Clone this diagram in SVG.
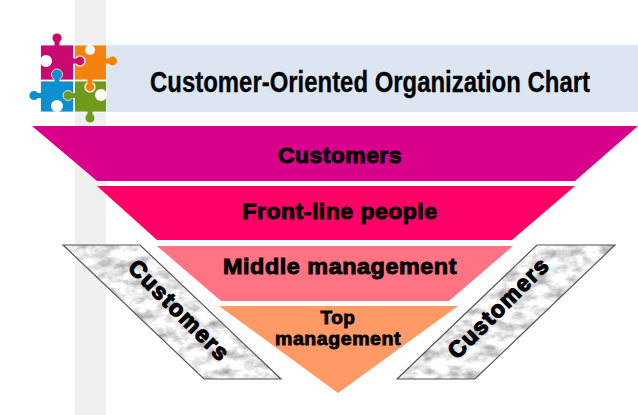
<svg xmlns="http://www.w3.org/2000/svg" width="638" height="415" viewBox="0 0 638 415">
<style>
.t{font-family:"Liberation Sans",Arial,sans-serif;font-weight:700;fill:#000;text-anchor:middle;font-size:22px;stroke:#000;stroke-width:.9;letter-spacing:.5px}
.s{font-size:18.500px;stroke-width:.8}
.r{font-size:23px;stroke-width:1.300}
.title{font-family:"Liberation Sans",Arial,sans-serif;font-weight:700;fill:#000;font-size:29px;text-anchor:middle;stroke:#000;stroke-width:.3}
.edge{fill:none;stroke:#555;stroke-width:1.200}
.p{stroke:#fff;stroke-width:.8}
</style>
<defs>
<filter id="marble" x="0" y="0" width="100%" height="100%" color-interpolation-filters="sRGB">
<feTurbulence type="fractalNoise" baseFrequency="0.06 0.1" numOctaves="5" seed="11"/>
<feColorMatrix type="matrix" values="0.75 0.2 0 0 0.44  0.75 0.2 0 0 0.44  0.75 0.2 0 0 0.44  0 0 0 0 1"/>
</filter>
<clipPath id="cl"><polygon points="63,245 140,245 281,379 204,379"/></clipPath>
<clipPath id="cr"><polygon points="537,245 615,245 475,379 397,379"/></clipPath>
</defs>
<rect id="band" x="75" y="0" width="31" height="415" fill="#f0f0f0"/>
<rect id="titlebar" x="106" y="45" width="532" height="67" fill="#dce6f2"/>
<g id="puzzle">
<g class="p" fill="#c8096f"><circle cx="57" cy="38" r="5"/><rect x="40.500" y="45" width="33" height="35"/><rect x="54.500" y="41" width="5" height="6" stroke="none"/><circle cx="80" cy="61" r="5"/><rect x="72" y="58.500" width="5" height="5" stroke="none"/></g>
<g class="p" fill="#f5820d"><rect x="74.500" y="45" width="32" height="35"/><circle cx="112.500" cy="61" r="5"/><rect x="105" y="58.500" width="4" height="5" stroke="none"/></g>
<circle cx="80" cy="61" r="5" fill="#c8096f" stroke="#fff" stroke-width="1.200"/>
<rect x="72" y="58.500" width="5" height="5" fill="#c8096f"/>
<circle cx="90" cy="50" r="5" fill="#fff"/>
<circle cx="46" cy="61" r="6" fill="#fff"/>
<g class="p" fill="#0d8fcf"><circle cx="57" cy="74.500" r="5.500"/><rect x="40.500" y="81" width="33" height="31"/><circle cx="34" cy="95.500" r="5"/><rect x="37" y="93" width="5" height="5" stroke="none"/><rect x="54.500" y="77" width="5" height="5" stroke="none"/></g>
<circle cx="57" cy="106" r="6" fill="#fff"/>
<g class="p" fill="#6f9a1c"><rect x="74.500" y="81" width="32" height="31"/><circle cx="90" cy="118" r="5"/><rect x="87.500" y="110" width="5" height="5" stroke="none"/><circle cx="68" cy="95.500" r="5"/><rect x="70" y="93" width="6" height="5" stroke="none"/></g>
<circle cx="90" cy="87" r="5" fill="#f5820d" stroke="#fff" stroke-width="1.200"/>
<rect x="87.500" y="78" width="5" height="5" fill="#f5820d"/>
<circle cx="101" cy="95" r="6" fill="#fff"/>
</g>
<text id="title" class="title" transform="translate(370,92) scale(.825,1)">Customer-Oriented Organization Chart</text>
<g id="tier-customers"><polygon points="32,126 638,126 575,181 97,181" fill="#d9008b"/><text class="t" x="340" y="163" textLength="124" lengthAdjust="spacingAndGlyphs">Customers</text></g>
<g id="tier-frontline"><polygon points="97,186 575,186 512,240 157,240" fill="#ff0066"/><text class="t" x="340" y="219" textLength="195" lengthAdjust="spacingAndGlyphs">Front-line people</text></g>
<g id="tier-middle"><polygon points="157,246 513,246 449,301 221,301" fill="#ff7383"/><text class="t" x="340" y="274" textLength="234" lengthAdjust="spacingAndGlyphs">Middle management</text></g>
<g id="tier-top"><polygon points="219,306 458,306 338,393" fill="#ff9966"/><text class="t s" x="338" y="324" textLength="35" lengthAdjust="spacingAndGlyphs">Top</text><text class="t s" x="338" y="345" textLength="126" lengthAdjust="spacingAndGlyphs">management</text></g>
<g id="customers-left">
<g clip-path="url(#cl)"><rect x="60" y="243" width="224" height="138" filter="url(#marble)"/></g>
<polygon class="edge" points="63,245 140,245 281,379 204,379"/>
<text class="t r" transform="translate(179,310) rotate(45)" y="8" textLength="132">Customers</text>
</g>
<g id="customers-right">
<g clip-path="url(#cr)"><rect x="394" y="243" width="224" height="138" filter="url(#marble)"/></g>
<polygon class="edge" points="537,245 615,245 475,379 397,379"/>
<text class="t r" transform="translate(498,308) rotate(-45)" y="8" textLength="132">Customers</text>
</g>
<g id="connectors"/>
</svg>
